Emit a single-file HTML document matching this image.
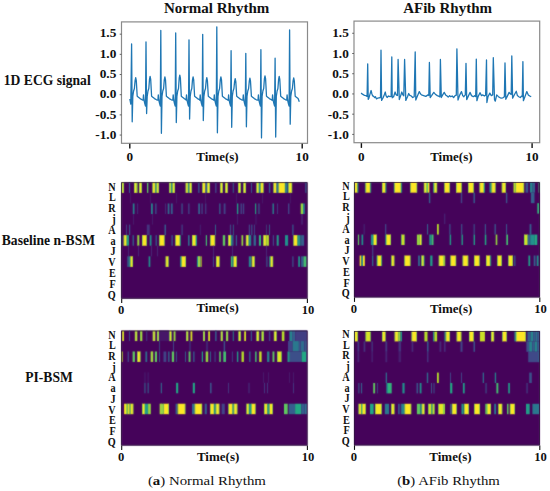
<!DOCTYPE html>
<html><head><meta charset="utf-8"><style>
html,body{margin:0;padding:0;background:#fff;}
svg{display:block;}
text{font-family:"Liberation Serif", serif;}
.tk{font-size:12.6px;font-weight:bold;fill:#111;}
.tky{font-size:13.3px;font-weight:bold;fill:#111;}
.tkx{font-size:13.2px;font-weight:bold;fill:#111;}
.xl{font-size:13px;font-weight:bold;fill:#111;}
.ti{font-size:15px;font-weight:bold;fill:#111;}
.rl{font-size:11.6px;font-weight:bold;fill:#111;}
.lab{font-size:13.6px;font-weight:bold;fill:#111;}
.cap{font-size:13.4px;fill:#111;}
</style></head><body>
<svg width="550" height="491" viewBox="0 0 550 491">
<defs><filter id="soft" color-interpolation-filters="sRGB" filterUnits="userSpaceOnUse" x="0" y="0" width="550" height="491"><feConvolveMatrix order="3" kernelMatrix="1 2 1 2 16 2 1 2 1" edgeMode="duplicate"/></filter></defs>
<rect width="550" height="491" fill="#fff"/>
<g filter="url(#soft)">
<rect x="121.2" y="182.3" width="186.3" height="116.30000000000001" fill="#45035a"/>
<rect x="121.3" y="182.30" width="0.40" height="10.57" fill="#2a788e"/>
<rect x="121.7" y="182.30" width="2.30" height="10.57" fill="#fde725"/>
<rect x="121.7" y="182.30" width="0.55" height="10.57" fill="#4fc36a"/>
<rect x="123.45" y="182.30" width="0.55" height="10.57" fill="#4fc36a"/>
<rect x="129.0" y="182.30" width="1.10" height="10.57" fill="#355f8d"/>
<rect x="134.0" y="182.30" width="3.00" height="10.57" fill="#fde725"/>
<rect x="134.0" y="182.30" width="0.55" height="10.57" fill="#4fc36a"/>
<rect x="136.45" y="182.30" width="0.55" height="10.57" fill="#4fc36a"/>
<rect x="137.0" y="182.30" width="0.60" height="10.57" fill="#95d740"/>
<rect x="139.0" y="182.30" width="2.90" height="10.57" fill="#fde725"/>
<rect x="139.0" y="182.30" width="0.55" height="10.57" fill="#4fc36a"/>
<rect x="141.35" y="182.30" width="0.55" height="10.57" fill="#4fc36a"/>
<rect x="147.0" y="182.30" width="1.30" height="10.57" fill="#5fc860"/>
<rect x="152.5" y="182.30" width="2.90" height="10.57" fill="#fde725"/>
<rect x="152.5" y="182.30" width="0.55" height="10.57" fill="#4fc36a"/>
<rect x="154.85" y="182.30" width="0.55" height="10.57" fill="#4fc36a"/>
<rect x="155.4" y="182.30" width="1.20" height="10.57" fill="#22a884"/>
<rect x="156.6" y="182.30" width="2.40" height="10.57" fill="#fde725"/>
<rect x="156.6" y="182.30" width="0.55" height="10.57" fill="#4fc36a"/>
<rect x="158.45" y="182.30" width="0.55" height="10.57" fill="#4fc36a"/>
<rect x="169.1" y="182.30" width="2.10" height="10.57" fill="#fde725"/>
<rect x="169.1" y="182.30" width="0.55" height="10.57" fill="#4fc36a"/>
<rect x="170.65" y="182.30" width="0.55" height="10.57" fill="#4fc36a"/>
<rect x="171.2" y="182.30" width="1.30" height="10.57" fill="#229c88"/>
<rect x="172.5" y="182.30" width="2.50" height="10.57" fill="#fde725"/>
<rect x="172.5" y="182.30" width="0.55" height="10.57" fill="#4fc36a"/>
<rect x="174.45" y="182.30" width="0.55" height="10.57" fill="#4fc36a"/>
<rect x="185.7" y="182.30" width="2.50" height="10.57" fill="#fde725"/>
<rect x="185.7" y="182.30" width="0.55" height="10.57" fill="#4fc36a"/>
<rect x="187.65" y="182.30" width="0.55" height="10.57" fill="#4fc36a"/>
<rect x="188.2" y="182.30" width="1.20" height="10.57" fill="#229c88"/>
<rect x="189.4" y="182.30" width="2.40" height="10.57" fill="#fde725"/>
<rect x="189.4" y="182.30" width="0.55" height="10.57" fill="#4fc36a"/>
<rect x="191.25" y="182.30" width="0.55" height="10.57" fill="#4fc36a"/>
<rect x="198.2" y="182.30" width="1.30" height="10.57" fill="#355f8d"/>
<rect x="202.3" y="182.30" width="3.20" height="10.57" fill="#fde725"/>
<rect x="202.3" y="182.30" width="0.55" height="10.57" fill="#4fc36a"/>
<rect x="204.95" y="182.30" width="0.55" height="10.57" fill="#4fc36a"/>
<rect x="205.5" y="182.30" width="1.50" height="10.57" fill="#3b528a"/>
<rect x="207.0" y="182.30" width="3.00" height="10.57" fill="#fde725"/>
<rect x="207.0" y="182.30" width="0.55" height="10.57" fill="#4fc36a"/>
<rect x="209.45" y="182.30" width="0.55" height="10.57" fill="#4fc36a"/>
<rect x="215.1" y="182.30" width="1.40" height="10.57" fill="#414487"/>
<rect x="220.1" y="182.30" width="2.70" height="10.57" fill="#fde725"/>
<rect x="220.1" y="182.30" width="0.55" height="10.57" fill="#4fc36a"/>
<rect x="222.25" y="182.30" width="0.55" height="10.57" fill="#4fc36a"/>
<rect x="225.1" y="182.30" width="2.70" height="10.57" fill="#fde725"/>
<rect x="225.1" y="182.30" width="0.55" height="10.57" fill="#4fc36a"/>
<rect x="227.25" y="182.30" width="0.55" height="10.57" fill="#4fc36a"/>
<rect x="232.8" y="182.30" width="0.90" height="10.57" fill="#306c8e"/>
<rect x="238.1" y="182.30" width="2.70" height="10.57" fill="#fde725"/>
<rect x="238.1" y="182.30" width="0.55" height="10.57" fill="#4fc36a"/>
<rect x="240.25" y="182.30" width="0.55" height="10.57" fill="#4fc36a"/>
<rect x="243.3" y="182.30" width="2.70" height="10.57" fill="#fde725"/>
<rect x="243.3" y="182.30" width="0.55" height="10.57" fill="#4fc36a"/>
<rect x="245.45" y="182.30" width="0.55" height="10.57" fill="#4fc36a"/>
<rect x="251.0" y="182.30" width="0.90" height="10.57" fill="#355f8d"/>
<rect x="256.5" y="182.30" width="2.50" height="10.57" fill="#fde725"/>
<rect x="256.5" y="182.30" width="0.55" height="10.57" fill="#4fc36a"/>
<rect x="258.45" y="182.30" width="0.55" height="10.57" fill="#4fc36a"/>
<rect x="259.0" y="182.30" width="1.50" height="10.57" fill="#26848d"/>
<rect x="260.5" y="182.30" width="3.00" height="10.57" fill="#fde725"/>
<rect x="260.5" y="182.30" width="0.55" height="10.57" fill="#4fc36a"/>
<rect x="262.95" y="182.30" width="0.55" height="10.57" fill="#4fc36a"/>
<rect x="268.9" y="182.30" width="1.40" height="10.57" fill="#355f8d"/>
<rect x="273.5" y="182.30" width="3.10" height="10.57" fill="#fde725"/>
<rect x="273.5" y="182.30" width="0.55" height="10.57" fill="#4fc36a"/>
<rect x="276.05" y="182.30" width="0.55" height="10.57" fill="#4fc36a"/>
<rect x="276.6" y="182.30" width="1.90" height="10.57" fill="#306c8e"/>
<rect x="278.5" y="182.30" width="6.80" height="10.57" fill="#fde725"/>
<rect x="278.5" y="182.30" width="0.55" height="10.57" fill="#4fc36a"/>
<rect x="284.75" y="182.30" width="0.55" height="10.57" fill="#4fc36a"/>
<rect x="285.3" y="182.30" width="2.20" height="10.57" fill="#26848d"/>
<rect x="288.0" y="182.30" width="0.50" height="10.57" fill="#95d740"/>
<rect x="288.5" y="182.30" width="3.60" height="10.57" fill="#fde725"/>
<rect x="288.5" y="182.30" width="0.55" height="10.57" fill="#4fc36a"/>
<rect x="291.55" y="182.30" width="0.55" height="10.57" fill="#4fc36a"/>
<rect x="305.3" y="182.30" width="1.30" height="10.57" fill="#355f8d"/>
<rect x="130" y="192.87" width="1.00" height="10.57" fill="#461668"/>
<rect x="150" y="192.87" width="1.00" height="10.57" fill="#461668"/>
<rect x="176" y="192.87" width="1.00" height="10.57" fill="#461668"/>
<rect x="205" y="192.87" width="1.00" height="10.57" fill="#461668"/>
<rect x="236" y="192.87" width="1.00" height="10.57" fill="#461668"/>
<rect x="262" y="192.87" width="1.00" height="10.57" fill="#461668"/>
<rect x="290" y="192.87" width="1.00" height="10.57" fill="#461668"/>
<rect x="132.8" y="203.45" width="1.70" height="10.57" fill="#26848d"/>
<rect x="137.2" y="203.45" width="0.90" height="10.57" fill="#44347e"/>
<rect x="151.0" y="203.45" width="1.80" height="10.57" fill="#26848d"/>
<rect x="155.2" y="203.45" width="1.30" height="10.57" fill="#3b528a"/>
<rect x="165.0" y="203.45" width="0.80" height="10.57" fill="#44347e"/>
<rect x="167.7" y="203.45" width="1.70" height="10.57" fill="#306c8e"/>
<rect x="170.9" y="203.45" width="1.80" height="10.57" fill="#355f8d"/>
<rect x="181.4" y="203.45" width="1.30" height="10.57" fill="#3b528a"/>
<rect x="188.2" y="203.45" width="1.30" height="10.57" fill="#414487"/>
<rect x="198.2" y="203.45" width="1.80" height="10.57" fill="#355f8d"/>
<rect x="201.4" y="203.45" width="1.30" height="10.57" fill="#414487"/>
<rect x="205.0" y="203.45" width="1.40" height="10.57" fill="#44347e"/>
<rect x="219.2" y="203.45" width="1.30" height="10.57" fill="#355f8d"/>
<rect x="223.7" y="203.45" width="1.80" height="10.57" fill="#414487"/>
<rect x="236.9" y="203.45" width="1.40" height="10.57" fill="#229c88"/>
<rect x="240.5" y="203.45" width="1.40" height="10.57" fill="#414487"/>
<rect x="242.8" y="203.45" width="1.40" height="10.57" fill="#414487"/>
<rect x="255.1" y="203.45" width="1.10" height="10.57" fill="#22a884"/>
<rect x="258.3" y="203.45" width="1.30" height="10.57" fill="#3b528a"/>
<rect x="272.5" y="203.45" width="1.40" height="10.57" fill="#26848d"/>
<rect x="277.0" y="203.45" width="1.00" height="10.57" fill="#44347e"/>
<rect x="288.0" y="203.45" width="1.40" height="10.57" fill="#414487"/>
<rect x="300.7" y="203.45" width="2.30" height="10.57" fill="#95d740"/>
<rect x="303.0" y="203.45" width="1.80" height="10.57" fill="#26848d"/>
<rect x="133" y="214.02" width="1.00" height="10.57" fill="#471a6b"/>
<rect x="152" y="214.02" width="1.00" height="10.57" fill="#471a6b"/>
<rect x="237" y="214.02" width="1.00" height="10.57" fill="#471d6e"/>
<rect x="255.5" y="214.02" width="1.00" height="10.57" fill="#471d6e"/>
<rect x="301" y="214.02" width="2.00" height="10.57" fill="#471d6e"/>
<rect x="126.1" y="224.59" width="0.90" height="10.57" fill="#414487"/>
<rect x="129.0" y="224.59" width="1.20" height="10.57" fill="#3b528a"/>
<rect x="146.8" y="224.59" width="2.90" height="10.57" fill="#44347e"/>
<rect x="164.5" y="224.59" width="1.50" height="10.57" fill="#375a8c"/>
<rect x="181.5" y="224.59" width="1.20" height="10.57" fill="#414487"/>
<rect x="199.9" y="224.59" width="0.60" height="10.57" fill="#44347e"/>
<rect x="215.1" y="224.59" width="0.90" height="10.57" fill="#306c8e"/>
<rect x="229.9" y="224.59" width="1.20" height="10.57" fill="#414487"/>
<rect x="232.9" y="224.59" width="0.80" height="10.57" fill="#306c8e"/>
<rect x="248.8" y="224.59" width="1.20" height="10.57" fill="#414487"/>
<rect x="251.2" y="224.59" width="1.20" height="10.57" fill="#3b528a"/>
<rect x="254.1" y="224.59" width="0.90" height="10.57" fill="#414487"/>
<rect x="266.3" y="224.59" width="0.60" height="10.57" fill="#3b528a"/>
<rect x="269.2" y="224.59" width="0.80" height="10.57" fill="#306c8e"/>
<rect x="292.3" y="224.59" width="1.20" height="10.57" fill="#355f8d"/>
<rect x="121.1" y="235.16" width="0.90" height="10.57" fill="#2a788e"/>
<rect x="123.7" y="235.16" width="3.00" height="10.57" fill="#fde725"/>
<rect x="123.7" y="235.16" width="0.55" height="10.57" fill="#4fc36a"/>
<rect x="126.15" y="235.16" width="0.55" height="10.57" fill="#4fc36a"/>
<rect x="127.0" y="235.16" width="2.00" height="10.57" fill="#229c88"/>
<rect x="132.6" y="235.16" width="1.20" height="10.57" fill="#306c8e"/>
<rect x="137.3" y="235.16" width="2.00" height="10.57" fill="#95d740"/>
<rect x="142.0" y="235.16" width="4.80" height="10.57" fill="#fde725"/>
<rect x="142.0" y="235.16" width="0.55" height="10.57" fill="#4fc36a"/>
<rect x="146.25" y="235.16" width="0.55" height="10.57" fill="#4fc36a"/>
<rect x="149.7" y="235.16" width="1.80" height="10.57" fill="#21918c"/>
<rect x="155.6" y="235.16" width="1.20" height="10.57" fill="#355f8d"/>
<rect x="159.2" y="235.16" width="5.30" height="10.57" fill="#fde725"/>
<rect x="159.2" y="235.16" width="0.55" height="10.57" fill="#4fc36a"/>
<rect x="163.95" y="235.16" width="0.55" height="10.57" fill="#4fc36a"/>
<rect x="171.5" y="235.16" width="1.20" height="10.57" fill="#355f8d"/>
<rect x="175.4" y="235.16" width="4.70" height="10.57" fill="#fde725"/>
<rect x="175.4" y="235.16" width="0.55" height="10.57" fill="#4fc36a"/>
<rect x="179.55" y="235.16" width="0.55" height="10.57" fill="#4fc36a"/>
<rect x="180.1" y="235.16" width="0.80" height="10.57" fill="#21918c"/>
<rect x="188.0" y="235.16" width="1.60" height="10.57" fill="#306c8e"/>
<rect x="192.0" y="235.16" width="4.00" height="10.57" fill="#fde725"/>
<rect x="192.0" y="235.16" width="0.55" height="10.57" fill="#4fc36a"/>
<rect x="195.45" y="235.16" width="0.55" height="10.57" fill="#4fc36a"/>
<rect x="196.0" y="235.16" width="1.00" height="10.57" fill="#21918c"/>
<rect x="205.8" y="235.16" width="1.20" height="10.57" fill="#44bf70"/>
<rect x="210.2" y="235.16" width="4.90" height="10.57" fill="#fde725"/>
<rect x="210.2" y="235.16" width="0.55" height="10.57" fill="#4fc36a"/>
<rect x="214.55" y="235.16" width="0.55" height="10.57" fill="#4fc36a"/>
<rect x="222.8" y="235.16" width="2.40" height="10.57" fill="#5fc860"/>
<rect x="228.1" y="235.16" width="3.00" height="10.57" fill="#fde725"/>
<rect x="228.1" y="235.16" width="0.55" height="10.57" fill="#4fc36a"/>
<rect x="230.55" y="235.16" width="0.55" height="10.57" fill="#4fc36a"/>
<rect x="231.1" y="235.16" width="1.20" height="10.57" fill="#21918c"/>
<rect x="232.3" y="235.16" width="1.20" height="10.57" fill="#306c8e"/>
<rect x="235.8" y="235.16" width="1.20" height="10.57" fill="#355f8d"/>
<rect x="241.5" y="235.16" width="1.70" height="10.57" fill="#95d740"/>
<rect x="245.9" y="235.16" width="2.90" height="10.57" fill="#fde725"/>
<rect x="245.9" y="235.16" width="0.55" height="10.57" fill="#4fc36a"/>
<rect x="248.25" y="235.16" width="0.55" height="10.57" fill="#4fc36a"/>
<rect x="248.8" y="235.16" width="2.40" height="10.57" fill="#26848d"/>
<rect x="253.6" y="235.16" width="2.30" height="10.57" fill="#306c8e"/>
<rect x="258.9" y="235.16" width="2.10" height="10.57" fill="#33b47a"/>
<rect x="263.3" y="235.16" width="3.00" height="10.57" fill="#fde725"/>
<rect x="263.3" y="235.16" width="0.55" height="10.57" fill="#4fc36a"/>
<rect x="265.75" y="235.16" width="0.55" height="10.57" fill="#4fc36a"/>
<rect x="266.3" y="235.16" width="2.60" height="10.57" fill="#b6de2a"/>
<rect x="272.8" y="235.16" width="1.20" height="10.57" fill="#414487"/>
<rect x="276.7" y="235.16" width="2.00" height="10.57" fill="#229c88"/>
<rect x="285.0" y="235.16" width="3.10" height="10.57" fill="#21918c"/>
<rect x="293.5" y="235.16" width="4.10" height="10.57" fill="#fde725"/>
<rect x="293.5" y="235.16" width="0.55" height="10.57" fill="#4fc36a"/>
<rect x="297.05" y="235.16" width="0.55" height="10.57" fill="#4fc36a"/>
<rect x="297.6" y="235.16" width="3.00" height="10.57" fill="#21918c"/>
<rect x="301.1" y="235.16" width="3.00" height="10.57" fill="#355f8d"/>
<rect x="128" y="245.74" width="1.00" height="10.57" fill="#482475"/>
<rect x="138" y="245.74" width="1.00" height="10.57" fill="#482475"/>
<rect x="151" y="245.74" width="1.00" height="10.57" fill="#482475"/>
<rect x="157" y="245.74" width="1.00" height="10.57" fill="#482475"/>
<rect x="213" y="245.74" width="1.00" height="10.57" fill="#482475"/>
<rect x="232" y="245.74" width="1.00" height="10.57" fill="#482475"/>
<rect x="266" y="245.74" width="1.00" height="10.57" fill="#482475"/>
<rect x="127.3" y="256.31" width="1.20" height="10.57" fill="#355f8d"/>
<rect x="128.5" y="256.31" width="1.40" height="10.57" fill="#26848d"/>
<rect x="130.2" y="256.31" width="2.80" height="10.57" fill="#fde725"/>
<rect x="130.2" y="256.31" width="0.55" height="10.57" fill="#4fc36a"/>
<rect x="132.45" y="256.31" width="0.55" height="10.57" fill="#4fc36a"/>
<rect x="148.6" y="256.31" width="1.70" height="10.57" fill="#21918c"/>
<rect x="165.7" y="256.31" width="2.80" height="10.57" fill="#fde725"/>
<rect x="165.7" y="256.31" width="0.55" height="10.57" fill="#4fc36a"/>
<rect x="167.95" y="256.31" width="0.55" height="10.57" fill="#4fc36a"/>
<rect x="180.1" y="256.31" width="1.30" height="10.57" fill="#21918c"/>
<rect x="181.4" y="256.31" width="4.60" height="10.57" fill="#fde725"/>
<rect x="181.4" y="256.31" width="0.55" height="10.57" fill="#4fc36a"/>
<rect x="185.45" y="256.31" width="0.55" height="10.57" fill="#4fc36a"/>
<rect x="196.9" y="256.31" width="1.10" height="10.57" fill="#21918c"/>
<rect x="198.0" y="256.31" width="2.00" height="10.57" fill="#fde725"/>
<rect x="198.0" y="256.31" width="0.55" height="10.57" fill="#4fc36a"/>
<rect x="199.45" y="256.31" width="0.55" height="10.57" fill="#4fc36a"/>
<rect x="200.0" y="256.31" width="0.60" height="10.57" fill="#229c88"/>
<rect x="200.6" y="256.31" width="1.00" height="10.57" fill="#d7e226"/>
<rect x="212.9" y="256.31" width="1.10" height="10.57" fill="#414487"/>
<rect x="216.0" y="256.31" width="3.50" height="10.57" fill="#fde725"/>
<rect x="216.0" y="256.31" width="0.55" height="10.57" fill="#4fc36a"/>
<rect x="218.95" y="256.31" width="0.55" height="10.57" fill="#4fc36a"/>
<rect x="230.9" y="256.31" width="1.40" height="10.57" fill="#44bf70"/>
<rect x="232.3" y="256.31" width="1.20" height="10.57" fill="#21918c"/>
<rect x="233.5" y="256.31" width="3.30" height="10.57" fill="#fde725"/>
<rect x="233.5" y="256.31" width="0.55" height="10.57" fill="#4fc36a"/>
<rect x="236.25" y="256.31" width="0.55" height="10.57" fill="#4fc36a"/>
<rect x="248.8" y="256.31" width="2.40" height="10.57" fill="#26848d"/>
<rect x="251.8" y="256.31" width="2.90" height="10.57" fill="#fde725"/>
<rect x="251.8" y="256.31" width="0.55" height="10.57" fill="#4fc36a"/>
<rect x="254.15" y="256.31" width="0.55" height="10.57" fill="#4fc36a"/>
<rect x="266.3" y="256.31" width="1.20" height="10.57" fill="#3b528a"/>
<rect x="269.2" y="256.31" width="1.20" height="10.57" fill="#26848d"/>
<rect x="270.4" y="256.31" width="2.70" height="10.57" fill="#fde725"/>
<rect x="270.4" y="256.31" width="0.55" height="10.57" fill="#4fc36a"/>
<rect x="272.55" y="256.31" width="0.55" height="10.57" fill="#4fc36a"/>
<rect x="292.3" y="256.31" width="1.20" height="10.57" fill="#3b528a"/>
<rect x="298.2" y="256.31" width="1.80" height="10.57" fill="#21918c"/>
<rect x="301.1" y="256.31" width="2.40" height="10.57" fill="#355f8d"/>
<rect x="303.5" y="256.31" width="3.00" height="10.57" fill="#44bf70"/>
<rect x="354.0" y="182.2" width="185.89999999999998" height="115.19999999999999" fill="#45035a"/>
<rect x="354.5" y="182.20" width="3.10" height="10.47" fill="#fde725"/>
<rect x="354.5" y="182.20" width="0.55" height="10.47" fill="#4fc36a"/>
<rect x="357.05" y="182.20" width="0.55" height="10.47" fill="#4fc36a"/>
<rect x="357.6" y="182.20" width="0.80" height="10.47" fill="#21918c"/>
<rect x="364.9" y="182.20" width="0.70" height="10.47" fill="#21918c"/>
<rect x="365.6" y="182.20" width="4.80" height="10.47" fill="#fde725"/>
<rect x="365.6" y="182.20" width="0.55" height="10.47" fill="#4fc36a"/>
<rect x="369.85" y="182.20" width="0.55" height="10.47" fill="#4fc36a"/>
<rect x="370.4" y="182.20" width="0.80" height="10.47" fill="#21918c"/>
<rect x="382.0" y="182.20" width="3.60" height="10.47" fill="#fde725"/>
<rect x="382.0" y="182.20" width="0.55" height="10.47" fill="#4fc36a"/>
<rect x="385.05" y="182.20" width="0.55" height="10.47" fill="#4fc36a"/>
<rect x="385.6" y="182.20" width="0.80" height="10.47" fill="#21918c"/>
<rect x="393.8" y="182.20" width="0.60" height="10.47" fill="#21918c"/>
<rect x="394.4" y="182.20" width="6.80" height="10.47" fill="#fde725"/>
<rect x="394.4" y="182.20" width="0.55" height="10.47" fill="#4fc36a"/>
<rect x="400.65" y="182.20" width="0.55" height="10.47" fill="#4fc36a"/>
<rect x="401.2" y="182.20" width="0.90" height="10.47" fill="#21918c"/>
<rect x="410.3" y="182.20" width="6.80" height="10.47" fill="#fde725"/>
<rect x="410.3" y="182.20" width="0.55" height="10.47" fill="#4fc36a"/>
<rect x="416.55" y="182.20" width="0.55" height="10.47" fill="#4fc36a"/>
<rect x="423.9" y="182.20" width="3.00" height="10.47" fill="#fde725"/>
<rect x="423.9" y="182.20" width="0.55" height="10.47" fill="#4fc36a"/>
<rect x="426.35" y="182.20" width="0.55" height="10.47" fill="#4fc36a"/>
<rect x="426.9" y="182.20" width="1.10" height="10.47" fill="#5fc860"/>
<rect x="428.0" y="182.20" width="1.40" height="10.47" fill="#fde725"/>
<rect x="433.0" y="182.20" width="0.90" height="10.47" fill="#26848d"/>
<rect x="433.9" y="182.20" width="3.20" height="10.47" fill="#fde725"/>
<rect x="433.9" y="182.20" width="0.55" height="10.47" fill="#4fc36a"/>
<rect x="436.55" y="182.20" width="0.55" height="10.47" fill="#4fc36a"/>
<rect x="444.4" y="182.20" width="5.50" height="10.47" fill="#fde725"/>
<rect x="444.4" y="182.20" width="0.55" height="10.47" fill="#4fc36a"/>
<rect x="449.35" y="182.20" width="0.55" height="10.47" fill="#4fc36a"/>
<rect x="456.0" y="182.20" width="5.70" height="10.47" fill="#fde725"/>
<rect x="456.0" y="182.20" width="0.55" height="10.47" fill="#4fc36a"/>
<rect x="461.15" y="182.20" width="0.55" height="10.47" fill="#4fc36a"/>
<rect x="468.1" y="182.20" width="5.70" height="10.47" fill="#fde725"/>
<rect x="468.1" y="182.20" width="0.55" height="10.47" fill="#4fc36a"/>
<rect x="473.25" y="182.20" width="0.55" height="10.47" fill="#4fc36a"/>
<rect x="479.6" y="182.20" width="4.50" height="10.47" fill="#fde725"/>
<rect x="479.6" y="182.20" width="0.55" height="10.47" fill="#4fc36a"/>
<rect x="483.55" y="182.20" width="0.55" height="10.47" fill="#4fc36a"/>
<rect x="484.1" y="182.20" width="0.90" height="10.47" fill="#21918c"/>
<rect x="489.5" y="182.20" width="1.40" height="10.47" fill="#21918c"/>
<rect x="490.9" y="182.20" width="0.70" height="10.47" fill="#5fc860"/>
<rect x="491.6" y="182.20" width="3.90" height="10.47" fill="#fde725"/>
<rect x="491.6" y="182.20" width="0.55" height="10.47" fill="#4fc36a"/>
<rect x="494.95" y="182.20" width="0.55" height="10.47" fill="#4fc36a"/>
<rect x="501.8" y="182.20" width="4.10" height="10.47" fill="#fde725"/>
<rect x="501.8" y="182.20" width="0.55" height="10.47" fill="#4fc36a"/>
<rect x="505.35" y="182.20" width="0.55" height="10.47" fill="#4fc36a"/>
<rect x="513.5" y="182.20" width="2.00" height="10.47" fill="#b6de2a"/>
<rect x="515.5" y="182.20" width="8.60" height="10.47" fill="#fde725"/>
<rect x="515.5" y="182.20" width="0.55" height="10.47" fill="#4fc36a"/>
<rect x="523.55" y="182.20" width="0.55" height="10.47" fill="#4fc36a"/>
<rect x="525.5" y="182.20" width="2.70" height="10.47" fill="#3b528a"/>
<rect x="530.0" y="182.20" width="2.70" height="10.47" fill="#26848d"/>
<rect x="532.7" y="182.20" width="2.30" height="10.47" fill="#355f8d"/>
<rect x="538.6" y="182.20" width="0.90" height="10.47" fill="#44bf70"/>
<rect x="428.9" y="192.67" width="1.40" height="10.47" fill="#355f8d"/>
<rect x="460.8" y="192.67" width="1.40" height="10.47" fill="#414487"/>
<rect x="473.5" y="192.67" width="1.40" height="10.47" fill="#355f8d"/>
<rect x="505.9" y="192.67" width="1.40" height="10.47" fill="#3b528a"/>
<rect x="530.9" y="192.67" width="3.60" height="10.47" fill="#355f8d"/>
<rect x="537.3" y="203.15" width="1.80" height="10.47" fill="#33b47a"/>
<rect x="444.1" y="213.62" width="1.20" height="10.47" fill="#482475"/>
<rect x="363.8" y="224.09" width="0.60" height="10.47" fill="#414487"/>
<rect x="385.0" y="224.09" width="1.30" height="10.47" fill="#414487"/>
<rect x="427.0" y="224.09" width="1.10" height="10.47" fill="#355f8d"/>
<rect x="437.0" y="224.09" width="1.80" height="10.47" fill="#b6de2a"/>
<rect x="449.3" y="224.09" width="1.20" height="10.47" fill="#3b528a"/>
<rect x="461.1" y="224.09" width="1.20" height="10.47" fill="#3b528a"/>
<rect x="473.6" y="224.09" width="1.10" height="10.47" fill="#3b528a"/>
<rect x="484.8" y="224.09" width="1.20" height="10.47" fill="#3b528a"/>
<rect x="494.5" y="224.09" width="1.40" height="10.47" fill="#3b528a"/>
<rect x="506.0" y="224.09" width="1.10" height="10.47" fill="#3b528a"/>
<rect x="529.6" y="224.09" width="1.80" height="10.47" fill="#355f8d"/>
<rect x="357.9" y="234.56" width="1.20" height="10.47" fill="#5fc860"/>
<rect x="361.5" y="234.56" width="1.70" height="10.47" fill="#21918c"/>
<rect x="370.9" y="234.56" width="2.40" height="10.47" fill="#21918c"/>
<rect x="373.3" y="234.56" width="3.50" height="10.47" fill="#fde725"/>
<rect x="373.3" y="234.56" width="0.55" height="10.47" fill="#4fc36a"/>
<rect x="376.25" y="234.56" width="0.55" height="10.47" fill="#4fc36a"/>
<rect x="385.3" y="234.56" width="0.70" height="10.47" fill="#21918c"/>
<rect x="386.0" y="234.56" width="5.00" height="10.47" fill="#fde725"/>
<rect x="386.0" y="234.56" width="0.55" height="10.47" fill="#4fc36a"/>
<rect x="390.45" y="234.56" width="0.55" height="10.47" fill="#4fc36a"/>
<rect x="401.0" y="234.56" width="0.50" height="10.47" fill="#44bf70"/>
<rect x="401.5" y="234.56" width="3.00" height="10.47" fill="#d7e226"/>
<rect x="401.5" y="234.56" width="0.55" height="10.47" fill="#4fc36a"/>
<rect x="403.95" y="234.56" width="0.55" height="10.47" fill="#4fc36a"/>
<rect x="416.9" y="234.56" width="2.40" height="10.47" fill="#95d740"/>
<rect x="419.3" y="234.56" width="2.30" height="10.47" fill="#fde725"/>
<rect x="419.3" y="234.56" width="0.55" height="10.47" fill="#4fc36a"/>
<rect x="421.05" y="234.56" width="0.55" height="10.47" fill="#4fc36a"/>
<rect x="429.3" y="234.56" width="2.40" height="10.47" fill="#21918c"/>
<rect x="431.7" y="234.56" width="1.80" height="10.47" fill="#44bf70"/>
<rect x="449.7" y="234.56" width="1.40" height="10.47" fill="#229c88"/>
<rect x="461.5" y="234.56" width="1.40" height="10.47" fill="#229c88"/>
<rect x="473.6" y="234.56" width="1.40" height="10.47" fill="#229c88"/>
<rect x="484.8" y="234.56" width="1.50" height="10.47" fill="#22a884"/>
<rect x="495.7" y="234.56" width="1.60" height="10.47" fill="#95d740"/>
<rect x="506.3" y="234.56" width="1.70" height="10.47" fill="#44bf70"/>
<rect x="524.0" y="234.56" width="3.80" height="10.47" fill="#d7e226"/>
<rect x="524.0" y="234.56" width="0.55" height="10.47" fill="#4fc36a"/>
<rect x="527.25" y="234.56" width="0.55" height="10.47" fill="#4fc36a"/>
<rect x="527.8" y="234.56" width="2.40" height="10.47" fill="#355f8d"/>
<rect x="530.2" y="234.56" width="4.10" height="10.47" fill="#21918c"/>
<rect x="534.3" y="234.56" width="3.00" height="10.47" fill="#22a884"/>
<rect x="372.1" y="245.04" width="1.20" height="10.47" fill="#414487"/>
<rect x="359.7" y="255.51" width="1.70" height="10.47" fill="#fde725"/>
<rect x="361.4" y="255.51" width="1.60" height="10.47" fill="#21918c"/>
<rect x="363.0" y="255.51" width="1.80" height="10.47" fill="#fde725"/>
<rect x="372.1" y="255.51" width="1.20" height="10.47" fill="#306c8e"/>
<rect x="376.6" y="255.51" width="0.50" height="10.47" fill="#22a884"/>
<rect x="377.1" y="255.51" width="4.50" height="10.47" fill="#fde725"/>
<rect x="377.1" y="255.51" width="0.55" height="10.47" fill="#4fc36a"/>
<rect x="381.05" y="255.51" width="0.55" height="10.47" fill="#4fc36a"/>
<rect x="381.6" y="255.51" width="0.50" height="10.47" fill="#22a884"/>
<rect x="391.4" y="255.51" width="2.90" height="10.47" fill="#fde725"/>
<rect x="391.4" y="255.51" width="0.55" height="10.47" fill="#4fc36a"/>
<rect x="393.75" y="255.51" width="0.55" height="10.47" fill="#4fc36a"/>
<rect x="404.5" y="255.51" width="5.90" height="10.47" fill="#fde725"/>
<rect x="404.5" y="255.51" width="0.55" height="10.47" fill="#4fc36a"/>
<rect x="409.85" y="255.51" width="0.55" height="10.47" fill="#4fc36a"/>
<rect x="418.1" y="255.51" width="1.80" height="10.47" fill="#306c8e"/>
<rect x="421.0" y="255.51" width="0.60" height="10.47" fill="#22a884"/>
<rect x="421.6" y="255.51" width="2.40" height="10.47" fill="#fde725"/>
<rect x="421.6" y="255.51" width="0.55" height="10.47" fill="#4fc36a"/>
<rect x="423.45" y="255.51" width="0.55" height="10.47" fill="#4fc36a"/>
<rect x="424.0" y="255.51" width="0.50" height="10.47" fill="#22a884"/>
<rect x="430.2" y="255.51" width="2.30" height="10.47" fill="#229c88"/>
<rect x="438.8" y="255.51" width="5.30" height="10.47" fill="#fde725"/>
<rect x="438.8" y="255.51" width="0.55" height="10.47" fill="#4fc36a"/>
<rect x="443.55" y="255.51" width="0.55" height="10.47" fill="#4fc36a"/>
<rect x="444.1" y="255.51" width="1.10" height="10.47" fill="#95d740"/>
<rect x="450.5" y="255.51" width="5.60" height="10.47" fill="#fde725"/>
<rect x="450.5" y="255.51" width="0.55" height="10.47" fill="#4fc36a"/>
<rect x="455.55" y="255.51" width="0.55" height="10.47" fill="#4fc36a"/>
<rect x="462.7" y="255.51" width="5.50" height="10.47" fill="#fde725"/>
<rect x="462.7" y="255.51" width="0.55" height="10.47" fill="#4fc36a"/>
<rect x="467.65" y="255.51" width="0.55" height="10.47" fill="#4fc36a"/>
<rect x="474.1" y="255.51" width="5.40" height="10.47" fill="#fde725"/>
<rect x="474.1" y="255.51" width="0.55" height="10.47" fill="#4fc36a"/>
<rect x="478.95" y="255.51" width="0.55" height="10.47" fill="#4fc36a"/>
<rect x="486.0" y="255.51" width="4.30" height="10.47" fill="#fde725"/>
<rect x="486.0" y="255.51" width="0.55" height="10.47" fill="#4fc36a"/>
<rect x="489.75" y="255.51" width="0.55" height="10.47" fill="#4fc36a"/>
<rect x="490.3" y="255.51" width="0.90" height="10.47" fill="#21918c"/>
<rect x="497.3" y="255.51" width="4.50" height="10.47" fill="#fde725"/>
<rect x="497.3" y="255.51" width="0.55" height="10.47" fill="#4fc36a"/>
<rect x="501.25" y="255.51" width="0.55" height="10.47" fill="#4fc36a"/>
<rect x="508.3" y="255.51" width="4.70" height="10.47" fill="#fde725"/>
<rect x="508.3" y="255.51" width="0.55" height="10.47" fill="#4fc36a"/>
<rect x="512.45" y="255.51" width="0.55" height="10.47" fill="#4fc36a"/>
<rect x="514.2" y="255.51" width="1.20" height="10.47" fill="#355f8d"/>
<rect x="528.4" y="255.51" width="1.80" height="10.47" fill="#229c88"/>
<rect x="533.7" y="255.51" width="1.80" height="10.47" fill="#355f8d"/>
<rect x="536.7" y="255.51" width="1.80" height="10.47" fill="#21918c"/>
<rect x="121.2" y="330.6" width="186.3" height="114.89999999999998" fill="#45035a"/>
<rect x="122.2" y="330.60" width="1.80" height="10.45" fill="#d7e226"/>
<rect x="129.0" y="330.60" width="0.90" height="10.45" fill="#3b528a"/>
<rect x="134.9" y="330.60" width="2.30" height="10.45" fill="#fde725"/>
<rect x="134.9" y="330.60" width="0.55" height="10.45" fill="#4fc36a"/>
<rect x="136.65" y="330.60" width="0.55" height="10.45" fill="#4fc36a"/>
<rect x="140.1" y="330.60" width="2.10" height="10.45" fill="#d7e226"/>
<rect x="140.1" y="330.60" width="0.55" height="10.45" fill="#4fc36a"/>
<rect x="141.65" y="330.60" width="0.55" height="10.45" fill="#4fc36a"/>
<rect x="146.3" y="330.60" width="0.90" height="10.45" fill="#414487"/>
<rect x="152.8" y="330.60" width="2.40" height="10.45" fill="#fde725"/>
<rect x="152.8" y="330.60" width="0.55" height="10.45" fill="#4fc36a"/>
<rect x="154.65" y="330.60" width="0.55" height="10.45" fill="#4fc36a"/>
<rect x="157.0" y="330.60" width="2.00" height="10.45" fill="#fde725"/>
<rect x="157.0" y="330.60" width="0.55" height="10.45" fill="#4fc36a"/>
<rect x="158.45" y="330.60" width="0.55" height="10.45" fill="#4fc36a"/>
<rect x="159.0" y="330.60" width="10.00" height="10.45" fill="#461668"/>
<rect x="169.4" y="330.60" width="2.10" height="10.45" fill="#fde725"/>
<rect x="169.4" y="330.60" width="0.55" height="10.45" fill="#4fc36a"/>
<rect x="170.95" y="330.60" width="0.55" height="10.45" fill="#4fc36a"/>
<rect x="173.6" y="330.60" width="1.90" height="10.45" fill="#95d740"/>
<rect x="186.1" y="330.60" width="2.10" height="10.45" fill="#fde725"/>
<rect x="186.1" y="330.60" width="0.55" height="10.45" fill="#4fc36a"/>
<rect x="187.65" y="330.60" width="0.55" height="10.45" fill="#4fc36a"/>
<rect x="190.5" y="330.60" width="1.80" height="10.45" fill="#d7e226"/>
<rect x="203.0" y="330.60" width="2.00" height="10.45" fill="#fde725"/>
<rect x="203.0" y="330.60" width="0.55" height="10.45" fill="#4fc36a"/>
<rect x="204.45" y="330.60" width="0.55" height="10.45" fill="#4fc36a"/>
<rect x="208.2" y="330.60" width="1.80" height="10.45" fill="#d7e226"/>
<rect x="215.1" y="330.60" width="1.50" height="10.45" fill="#355f8d"/>
<rect x="220.8" y="330.60" width="2.00" height="10.45" fill="#fde725"/>
<rect x="220.8" y="330.60" width="0.55" height="10.45" fill="#4fc36a"/>
<rect x="222.25" y="330.60" width="0.55" height="10.45" fill="#4fc36a"/>
<rect x="226.0" y="330.60" width="2.10" height="10.45" fill="#d7e226"/>
<rect x="226.0" y="330.60" width="0.55" height="10.45" fill="#4fc36a"/>
<rect x="227.55" y="330.60" width="0.55" height="10.45" fill="#4fc36a"/>
<rect x="232.8" y="330.60" width="0.90" height="10.45" fill="#21918c"/>
<rect x="238.5" y="330.60" width="2.30" height="10.45" fill="#fde725"/>
<rect x="238.5" y="330.60" width="0.55" height="10.45" fill="#4fc36a"/>
<rect x="240.25" y="330.60" width="0.55" height="10.45" fill="#4fc36a"/>
<rect x="244.2" y="330.60" width="1.80" height="10.45" fill="#d7e226"/>
<rect x="250.8" y="330.60" width="1.10" height="10.45" fill="#355f8d"/>
<rect x="256.5" y="330.60" width="2.60" height="10.45" fill="#fde725"/>
<rect x="256.5" y="330.60" width="0.55" height="10.45" fill="#4fc36a"/>
<rect x="258.55" y="330.60" width="0.55" height="10.45" fill="#4fc36a"/>
<rect x="261.6" y="330.60" width="2.30" height="10.45" fill="#d7e226"/>
<rect x="261.6" y="330.60" width="0.55" height="10.45" fill="#4fc36a"/>
<rect x="263.35" y="330.60" width="0.55" height="10.45" fill="#4fc36a"/>
<rect x="268.9" y="330.60" width="1.40" height="10.45" fill="#414487"/>
<rect x="273.9" y="330.60" width="2.70" height="10.45" fill="#fde725"/>
<rect x="273.9" y="330.60" width="0.55" height="10.45" fill="#4fc36a"/>
<rect x="276.05" y="330.60" width="0.55" height="10.45" fill="#4fc36a"/>
<rect x="281.8" y="330.60" width="2.60" height="10.45" fill="#b6de2a"/>
<rect x="289.4" y="330.60" width="2.70" height="10.45" fill="#26848d"/>
<rect x="292.1" y="330.60" width="3.20" height="10.45" fill="#355f8d"/>
<rect x="295.3" y="330.60" width="11.70" height="10.45" fill="#423e83"/>
<rect x="159.0" y="341.05" width="0.70" height="10.45" fill="#355f8d"/>
<rect x="173" y="341.05" width="1.00" height="10.45" fill="#414487"/>
<rect x="189.5" y="341.05" width="1.00" height="10.45" fill="#414487"/>
<rect x="206.5" y="341.05" width="1.00" height="10.45" fill="#414487"/>
<rect x="223.7" y="341.05" width="1.40" height="10.45" fill="#3b528a"/>
<rect x="288.0" y="341.05" width="4.50" height="10.45" fill="#414487"/>
<rect x="292.5" y="341.05" width="6.40" height="10.45" fill="#2a788e"/>
<rect x="298.9" y="341.05" width="1.80" height="10.45" fill="#3b528a"/>
<rect x="300.7" y="341.05" width="3.70" height="10.45" fill="#306c8e"/>
<rect x="304.4" y="341.05" width="2.60" height="10.45" fill="#3b528a"/>
<rect x="121.3" y="351.49" width="1.30" height="10.45" fill="#b6de2a"/>
<rect x="127.6" y="351.49" width="1.40" height="10.45" fill="#414487"/>
<rect x="132.6" y="351.49" width="2.30" height="10.45" fill="#5fc860"/>
<rect x="137.2" y="351.49" width="3.20" height="10.45" fill="#fde725"/>
<rect x="137.2" y="351.49" width="0.55" height="10.45" fill="#4fc36a"/>
<rect x="139.85" y="351.49" width="0.55" height="10.45" fill="#4fc36a"/>
<rect x="145.4" y="351.49" width="1.80" height="10.45" fill="#306c8e"/>
<rect x="150.8" y="351.49" width="2.30" height="10.45" fill="#d7e226"/>
<rect x="150.8" y="351.49" width="0.55" height="10.45" fill="#4fc36a"/>
<rect x="152.55" y="351.49" width="0.55" height="10.45" fill="#4fc36a"/>
<rect x="154.9" y="351.49" width="2.10" height="10.45" fill="#5fc860"/>
<rect x="159.0" y="351.49" width="0.90" height="10.45" fill="#355f8d"/>
<rect x="163.5" y="351.49" width="2.80" height="10.45" fill="#414487"/>
<rect x="168.2" y="351.49" width="1.30" height="10.45" fill="#306c8e"/>
<rect x="171.8" y="351.49" width="2.30" height="10.45" fill="#5fc860"/>
<rect x="175.9" y="351.49" width="0.90" height="10.45" fill="#355f8d"/>
<rect x="185.0" y="351.49" width="0.90" height="10.45" fill="#355f8d"/>
<rect x="188.6" y="351.49" width="1.90" height="10.45" fill="#5fc860"/>
<rect x="193.2" y="351.49" width="1.30" height="10.45" fill="#355f8d"/>
<rect x="201.8" y="351.49" width="1.20" height="10.45" fill="#22a884"/>
<rect x="205.7" y="351.49" width="2.50" height="10.45" fill="#95d740"/>
<rect x="210.0" y="351.49" width="0.90" height="10.45" fill="#306c8e"/>
<rect x="214.6" y="351.49" width="0.90" height="10.45" fill="#3b528a"/>
<rect x="219.2" y="351.49" width="1.60" height="10.45" fill="#5fc860"/>
<rect x="223.3" y="351.49" width="2.70" height="10.45" fill="#44bf70"/>
<rect x="231.9" y="351.49" width="0.90" height="10.45" fill="#414487"/>
<rect x="236.9" y="351.49" width="1.40" height="10.45" fill="#229c88"/>
<rect x="241.5" y="351.49" width="2.40" height="10.45" fill="#b6de2a"/>
<rect x="249.2" y="351.49" width="1.30" height="10.45" fill="#306c8e"/>
<rect x="255.1" y="351.49" width="1.50" height="10.45" fill="#44bf70"/>
<rect x="259.2" y="351.49" width="2.40" height="10.45" fill="#cae126"/>
<rect x="267.1" y="351.49" width="2.30" height="10.45" fill="#26848d"/>
<rect x="272.5" y="351.49" width="1.90" height="10.45" fill="#5fc860"/>
<rect x="277.1" y="351.49" width="4.50" height="10.45" fill="#e3e425"/>
<rect x="277.1" y="351.49" width="0.55" height="10.45" fill="#4fc36a"/>
<rect x="281.05" y="351.49" width="0.55" height="10.45" fill="#4fc36a"/>
<rect x="287.5" y="351.49" width="2.30" height="10.45" fill="#229c88"/>
<rect x="289.8" y="351.49" width="11.80" height="10.45" fill="#3c4f89"/>
<rect x="301.6" y="351.49" width="4.60" height="10.45" fill="#22a884"/>
<rect x="306.2" y="351.49" width="0.80" height="10.45" fill="#355f8d"/>
<rect x="144.4" y="372.38" width="1.10" height="10.45" fill="#471d6e"/>
<rect x="147.6" y="372.38" width="1.10" height="10.45" fill="#471d6e"/>
<rect x="263" y="372.38" width="1.00" height="10.45" fill="#471a6b"/>
<rect x="268" y="372.38" width="1.00" height="10.45" fill="#471a6b"/>
<rect x="289" y="372.38" width="1.00" height="10.45" fill="#471a6b"/>
<rect x="293" y="372.38" width="1.00" height="10.45" fill="#471a6b"/>
<rect x="144.4" y="382.83" width="1.10" height="10.45" fill="#355f8d"/>
<rect x="147.6" y="382.83" width="1.10" height="10.45" fill="#355f8d"/>
<rect x="160.8" y="382.83" width="1.10" height="10.45" fill="#306c8e"/>
<rect x="176.1" y="382.83" width="2.10" height="10.45" fill="#22a884"/>
<rect x="192.8" y="382.83" width="2.10" height="10.45" fill="#22a884"/>
<rect x="210.0" y="382.83" width="1.60" height="10.45" fill="#3b528a"/>
<rect x="228" y="382.83" width="1.00" height="10.45" fill="#44347e"/>
<rect x="248.5" y="382.83" width="1.00" height="10.45" fill="#44347e"/>
<rect x="264" y="382.83" width="1.00" height="10.45" fill="#44347e"/>
<rect x="267" y="382.83" width="1.00" height="10.45" fill="#44347e"/>
<rect x="293" y="382.83" width="1.00" height="10.45" fill="#44347e"/>
<rect x="124.1" y="403.72" width="1.90" height="10.45" fill="#f7e625"/>
<rect x="126.0" y="403.72" width="1.50" height="10.45" fill="#95d740"/>
<rect x="127.5" y="403.72" width="2.00" height="10.45" fill="#f7e625"/>
<rect x="127.5" y="403.72" width="0.55" height="10.45" fill="#4fc36a"/>
<rect x="128.95" y="403.72" width="0.55" height="10.45" fill="#4fc36a"/>
<rect x="129.5" y="403.72" width="1.00" height="10.45" fill="#95d740"/>
<rect x="130.5" y="403.72" width="2.80" height="10.45" fill="#fde725"/>
<rect x="130.5" y="403.72" width="0.55" height="10.45" fill="#4fc36a"/>
<rect x="132.75" y="403.72" width="0.55" height="10.45" fill="#4fc36a"/>
<rect x="142.1" y="403.72" width="2.90" height="10.45" fill="#fde725"/>
<rect x="142.1" y="403.72" width="0.55" height="10.45" fill="#4fc36a"/>
<rect x="144.45" y="403.72" width="0.55" height="10.45" fill="#4fc36a"/>
<rect x="145.0" y="403.72" width="3.10" height="10.45" fill="#229c88"/>
<rect x="148.1" y="403.72" width="2.70" height="10.45" fill="#95d740"/>
<rect x="159.8" y="403.72" width="2.20" height="10.45" fill="#e3e425"/>
<rect x="159.8" y="403.72" width="0.55" height="10.45" fill="#4fc36a"/>
<rect x="161.45" y="403.72" width="0.55" height="10.45" fill="#4fc36a"/>
<rect x="162" y="403.72" width="1.50" height="10.45" fill="#95d740"/>
<rect x="163.5" y="403.72" width="5.50" height="10.45" fill="#fde725"/>
<rect x="163.5" y="403.72" width="0.55" height="10.45" fill="#4fc36a"/>
<rect x="168.45" y="403.72" width="0.55" height="10.45" fill="#4fc36a"/>
<rect x="175.6" y="403.72" width="1.60" height="10.45" fill="#355f8d"/>
<rect x="177.7" y="403.72" width="7.60" height="10.45" fill="#fde725"/>
<rect x="177.7" y="403.72" width="0.55" height="10.45" fill="#4fc36a"/>
<rect x="184.75" y="403.72" width="0.55" height="10.45" fill="#4fc36a"/>
<rect x="192.0" y="403.72" width="2.70" height="10.45" fill="#306c8e"/>
<rect x="194.7" y="403.72" width="7.40" height="10.45" fill="#fde725"/>
<rect x="194.7" y="403.72" width="0.55" height="10.45" fill="#4fc36a"/>
<rect x="201.55" y="403.72" width="0.55" height="10.45" fill="#4fc36a"/>
<rect x="204.7" y="403.72" width="2.10" height="10.45" fill="#355f8d"/>
<rect x="210.0" y="403.72" width="4.20" height="10.45" fill="#fde725"/>
<rect x="210.0" y="403.72" width="0.55" height="10.45" fill="#4fc36a"/>
<rect x="213.65" y="403.72" width="0.55" height="10.45" fill="#4fc36a"/>
<rect x="214.2" y="403.72" width="1.60" height="10.45" fill="#229c88"/>
<rect x="215.8" y="403.72" width="3.50" height="10.45" fill="#fde725"/>
<rect x="215.8" y="403.72" width="0.55" height="10.45" fill="#4fc36a"/>
<rect x="218.75" y="403.72" width="0.55" height="10.45" fill="#4fc36a"/>
<rect x="221.6" y="403.72" width="3.20" height="10.45" fill="#414487"/>
<rect x="228.5" y="403.72" width="4.20" height="10.45" fill="#fde725"/>
<rect x="228.5" y="403.72" width="0.55" height="10.45" fill="#4fc36a"/>
<rect x="232.15" y="403.72" width="0.55" height="10.45" fill="#4fc36a"/>
<rect x="232.7" y="403.72" width="1.10" height="10.45" fill="#229c88"/>
<rect x="233.8" y="403.72" width="3.50" height="10.45" fill="#fde725"/>
<rect x="233.8" y="403.72" width="0.55" height="10.45" fill="#4fc36a"/>
<rect x="236.75" y="403.72" width="0.55" height="10.45" fill="#4fc36a"/>
<rect x="246.5" y="403.72" width="2.60" height="10.45" fill="#fde725"/>
<rect x="246.5" y="403.72" width="0.55" height="10.45" fill="#4fc36a"/>
<rect x="248.55" y="403.72" width="0.55" height="10.45" fill="#4fc36a"/>
<rect x="249.1" y="403.72" width="2.20" height="10.45" fill="#229c88"/>
<rect x="251.3" y="403.72" width="4.20" height="10.45" fill="#fde725"/>
<rect x="251.3" y="403.72" width="0.55" height="10.45" fill="#4fc36a"/>
<rect x="254.95" y="403.72" width="0.55" height="10.45" fill="#4fc36a"/>
<rect x="264.1" y="403.72" width="3.40" height="10.45" fill="#f7e625"/>
<rect x="264.1" y="403.72" width="0.55" height="10.45" fill="#4fc36a"/>
<rect x="266.95" y="403.72" width="0.55" height="10.45" fill="#4fc36a"/>
<rect x="267.5" y="403.72" width="1.90" height="10.45" fill="#229c88"/>
<rect x="269.4" y="403.72" width="3.40" height="10.45" fill="#fde725"/>
<rect x="269.4" y="403.72" width="0.55" height="10.45" fill="#4fc36a"/>
<rect x="272.25" y="403.72" width="0.55" height="10.45" fill="#4fc36a"/>
<rect x="284.0" y="403.72" width="3.70" height="10.45" fill="#5fc860"/>
<rect x="288.7" y="403.72" width="6.40" height="10.45" fill="#355f8d"/>
<rect x="295.1" y="403.72" width="6.30" height="10.45" fill="#22a884"/>
<rect x="301.4" y="403.72" width="3.20" height="10.45" fill="#355f8d"/>
<rect x="304.6" y="403.72" width="2.40" height="10.45" fill="#306c8e"/>
<rect x="354.0" y="331.0" width="185.89999999999998" height="114.39999999999998" fill="#45035a"/>
<rect x="354.5" y="331.00" width="3.40" height="10.40" fill="#fde725"/>
<rect x="354.5" y="331.00" width="0.55" height="10.40" fill="#4fc36a"/>
<rect x="357.35" y="331.00" width="0.55" height="10.40" fill="#4fc36a"/>
<rect x="365.6" y="331.00" width="5.00" height="10.40" fill="#d7e226"/>
<rect x="365.6" y="331.00" width="0.55" height="10.40" fill="#4fc36a"/>
<rect x="370.05" y="331.00" width="0.55" height="10.40" fill="#4fc36a"/>
<rect x="382.0" y="331.00" width="3.50" height="10.40" fill="#fde725"/>
<rect x="382.0" y="331.00" width="0.55" height="10.40" fill="#4fc36a"/>
<rect x="384.95" y="331.00" width="0.55" height="10.40" fill="#4fc36a"/>
<rect x="394.7" y="331.00" width="3.70" height="10.40" fill="#fde725"/>
<rect x="394.7" y="331.00" width="0.55" height="10.40" fill="#4fc36a"/>
<rect x="397.85" y="331.00" width="0.55" height="10.40" fill="#4fc36a"/>
<rect x="398.4" y="331.00" width="2.10" height="10.40" fill="#95d740"/>
<rect x="400.5" y="331.00" width="1.50" height="10.40" fill="#21918c"/>
<rect x="411.6" y="331.00" width="5.30" height="10.40" fill="#fde725"/>
<rect x="411.6" y="331.00" width="0.55" height="10.40" fill="#4fc36a"/>
<rect x="416.35" y="331.00" width="0.55" height="10.40" fill="#4fc36a"/>
<rect x="424.4" y="331.00" width="3.10" height="10.40" fill="#b6de2a"/>
<rect x="433.0" y="331.00" width="1.40" height="10.40" fill="#26848d"/>
<rect x="434.4" y="331.00" width="2.70" height="10.40" fill="#b6de2a"/>
<rect x="444.4" y="331.00" width="1.40" height="10.40" fill="#26848d"/>
<rect x="445.8" y="331.00" width="4.10" height="10.40" fill="#fde725"/>
<rect x="445.8" y="331.00" width="0.55" height="10.40" fill="#4fc36a"/>
<rect x="449.35" y="331.00" width="0.55" height="10.40" fill="#4fc36a"/>
<rect x="456.7" y="331.00" width="4.60" height="10.40" fill="#fde725"/>
<rect x="456.7" y="331.00" width="0.55" height="10.40" fill="#4fc36a"/>
<rect x="460.75" y="331.00" width="0.55" height="10.40" fill="#4fc36a"/>
<rect x="469.0" y="331.00" width="4.80" height="10.40" fill="#fde725"/>
<rect x="469.0" y="331.00" width="0.55" height="10.40" fill="#4fc36a"/>
<rect x="473.25" y="331.00" width="0.55" height="10.40" fill="#4fc36a"/>
<rect x="479.9" y="331.00" width="5.00" height="10.40" fill="#cae126"/>
<rect x="491.0" y="331.00" width="3.10" height="10.40" fill="#fde725"/>
<rect x="491.0" y="331.00" width="0.55" height="10.40" fill="#4fc36a"/>
<rect x="493.55" y="331.00" width="0.55" height="10.40" fill="#4fc36a"/>
<rect x="502.3" y="331.00" width="4.50" height="10.40" fill="#fde725"/>
<rect x="502.3" y="331.00" width="0.55" height="10.40" fill="#4fc36a"/>
<rect x="506.25" y="331.00" width="0.55" height="10.40" fill="#4fc36a"/>
<rect x="514.4" y="331.00" width="1.50" height="10.40" fill="#26848d"/>
<rect x="515.9" y="331.00" width="10.00" height="10.40" fill="#fde725"/>
<rect x="515.9" y="331.00" width="0.55" height="10.40" fill="#4fc36a"/>
<rect x="525.35" y="331.00" width="0.55" height="10.40" fill="#4fc36a"/>
<rect x="527.3" y="331.00" width="3.20" height="10.40" fill="#355f8d"/>
<rect x="530.5" y="331.00" width="2.70" height="10.40" fill="#26848d"/>
<rect x="533.2" y="331.00" width="2.30" height="10.40" fill="#355f8d"/>
<rect x="535.5" y="331.00" width="1.80" height="10.40" fill="#2a788e"/>
<rect x="537.3" y="331.00" width="2.20" height="10.40" fill="#355f8d"/>
<rect x="357.5" y="341.40" width="1.70" height="10.40" fill="#443780"/>
<rect x="363.6" y="341.40" width="1.70" height="10.40" fill="#45317c"/>
<rect x="371.5" y="341.40" width="1.30" height="10.40" fill="#443780"/>
<rect x="385.4" y="341.40" width="1.80" height="10.40" fill="#443780"/>
<rect x="398.5" y="341.40" width="2.60" height="10.40" fill="#45317c"/>
<rect x="411.6" y="341.40" width="1.70" height="10.40" fill="#472a79"/>
<rect x="427.1" y="341.40" width="1.40" height="10.40" fill="#355f8d"/>
<rect x="439.5" y="341.40" width="1.80" height="10.40" fill="#472a79"/>
<rect x="443.9" y="341.40" width="1.70" height="10.40" fill="#472a79"/>
<rect x="460.5" y="341.40" width="2.00" height="10.40" fill="#414487"/>
<rect x="473.5" y="341.40" width="1.50" height="10.40" fill="#3b528a"/>
<rect x="526.4" y="341.40" width="2.70" height="10.40" fill="#3b528a"/>
<rect x="529.1" y="341.40" width="3.20" height="10.40" fill="#26848d"/>
<rect x="532.3" y="341.40" width="2.20" height="10.40" fill="#355f8d"/>
<rect x="534.5" y="341.40" width="2.80" height="10.40" fill="#26848d"/>
<rect x="537.3" y="341.40" width="2.20" height="10.40" fill="#355f8d"/>
<rect x="357.5" y="351.80" width="1.70" height="10.40" fill="#482475"/>
<rect x="371.5" y="351.80" width="1.30" height="10.40" fill="#482475"/>
<rect x="385.4" y="351.80" width="1.80" height="10.40" fill="#482475"/>
<rect x="398.5" y="351.80" width="2.60" height="10.40" fill="#471d6e"/>
<rect x="427" y="351.80" width="1.50" height="10.40" fill="#45317c"/>
<rect x="528.2" y="351.80" width="10.00" height="10.40" fill="#3f4988"/>
<rect x="538.2" y="351.80" width="1.30" height="10.40" fill="#306c8e"/>
<rect x="385.7" y="372.60" width="1.30" height="10.40" fill="#306c8e"/>
<rect x="426.8" y="372.60" width="1.40" height="10.40" fill="#306c8e"/>
<rect x="437.0" y="372.60" width="1.80" height="10.40" fill="#b6de2a"/>
<rect x="450" y="372.60" width="1.00" height="10.40" fill="#414487"/>
<rect x="461" y="372.60" width="1.00" height="10.40" fill="#414487"/>
<rect x="482.7" y="372.60" width="1.30" height="10.40" fill="#306c8e"/>
<rect x="494.8" y="372.60" width="1.30" height="10.40" fill="#26848d"/>
<rect x="529.2" y="372.60" width="2.60" height="10.40" fill="#3b528a"/>
<rect x="358.4" y="383.00" width="1.00" height="10.40" fill="#355f8d"/>
<rect x="361.0" y="383.00" width="1.10" height="10.40" fill="#355f8d"/>
<rect x="373.2" y="383.00" width="1.90" height="10.40" fill="#5fc860"/>
<rect x="377.0" y="383.00" width="0.80" height="10.40" fill="#3b528a"/>
<rect x="386.4" y="383.00" width="1.60" height="10.40" fill="#21918c"/>
<rect x="388.0" y="383.00" width="3.70" height="10.40" fill="#33b47a"/>
<rect x="402.4" y="383.00" width="2.20" height="10.40" fill="#21918c"/>
<rect x="416.5" y="383.00" width="1.60" height="10.40" fill="#3b528a"/>
<rect x="419.7" y="383.00" width="1.80" height="10.40" fill="#21918c"/>
<rect x="431" y="383.00" width="1.00" height="10.40" fill="#3b528a"/>
<rect x="433.5" y="383.00" width="1.00" height="10.40" fill="#3b528a"/>
<rect x="450.1" y="383.00" width="2.20" height="10.40" fill="#22a884"/>
<rect x="462.9" y="383.00" width="1.80" height="10.40" fill="#229c88"/>
<rect x="485.5" y="383.00" width="1.10" height="10.40" fill="#3b528a"/>
<rect x="496.4" y="383.00" width="1.90" height="10.40" fill="#44bf70"/>
<rect x="508.2" y="383.00" width="1.70" height="10.40" fill="#229c88"/>
<rect x="526.5" y="383.00" width="1.10" height="10.40" fill="#414487"/>
<rect x="358.6" y="403.80" width="2.90" height="10.40" fill="#f7e625"/>
<rect x="358.6" y="403.80" width="0.55" height="10.40" fill="#4fc36a"/>
<rect x="360.95" y="403.80" width="0.55" height="10.40" fill="#4fc36a"/>
<rect x="361.5" y="403.80" width="0.50" height="10.40" fill="#22a884"/>
<rect x="362.0" y="403.80" width="3.80" height="10.40" fill="#fde725"/>
<rect x="362.0" y="403.80" width="0.55" height="10.40" fill="#4fc36a"/>
<rect x="365.25" y="403.80" width="0.55" height="10.40" fill="#4fc36a"/>
<rect x="370.0" y="403.80" width="3.70" height="10.40" fill="#22a884"/>
<rect x="375.1" y="403.80" width="6.60" height="10.40" fill="#f7e625"/>
<rect x="375.1" y="403.80" width="0.55" height="10.40" fill="#4fc36a"/>
<rect x="381.15" y="403.80" width="0.55" height="10.40" fill="#4fc36a"/>
<rect x="384.8" y="403.80" width="4.30" height="10.40" fill="#2a788e"/>
<rect x="391.2" y="403.80" width="3.20" height="10.40" fill="#fde725"/>
<rect x="391.2" y="403.80" width="0.55" height="10.40" fill="#4fc36a"/>
<rect x="393.85" y="403.80" width="0.55" height="10.40" fill="#4fc36a"/>
<rect x="398.1" y="403.80" width="1.60" height="10.40" fill="#355f8d"/>
<rect x="400.7" y="403.80" width="0.50" height="10.40" fill="#306c8e"/>
<rect x="401.2" y="403.80" width="3.40" height="10.40" fill="#26848d"/>
<rect x="404.6" y="403.80" width="6.60" height="10.40" fill="#fde725"/>
<rect x="404.6" y="403.80" width="0.55" height="10.40" fill="#4fc36a"/>
<rect x="410.65" y="403.80" width="0.55" height="10.40" fill="#4fc36a"/>
<rect x="416.9" y="403.80" width="3.30" height="10.40" fill="#5fc860"/>
<rect x="420.2" y="403.80" width="1.60" height="10.40" fill="#21918c"/>
<rect x="421.8" y="403.80" width="2.70" height="10.40" fill="#fde725"/>
<rect x="421.8" y="403.80" width="0.55" height="10.40" fill="#4fc36a"/>
<rect x="423.95" y="403.80" width="0.55" height="10.40" fill="#4fc36a"/>
<rect x="428.2" y="403.80" width="3.30" height="10.40" fill="#d7e226"/>
<rect x="428.2" y="403.80" width="0.55" height="10.40" fill="#4fc36a"/>
<rect x="430.95" y="403.80" width="0.55" height="10.40" fill="#4fc36a"/>
<rect x="431.5" y="403.80" width="1.00" height="10.40" fill="#229c88"/>
<rect x="432.5" y="403.80" width="2.00" height="10.40" fill="#d7e226"/>
<rect x="432.5" y="403.80" width="0.55" height="10.40" fill="#4fc36a"/>
<rect x="433.95" y="403.80" width="0.55" height="10.40" fill="#4fc36a"/>
<rect x="438.3" y="403.80" width="5.70" height="10.40" fill="#e3e425"/>
<rect x="438.3" y="403.80" width="0.55" height="10.40" fill="#4fc36a"/>
<rect x="443.45" y="403.80" width="0.55" height="10.40" fill="#4fc36a"/>
<rect x="444.0" y="403.80" width="1.00" height="10.40" fill="#95d740"/>
<rect x="450.1" y="403.80" width="1.30" height="10.40" fill="#355f8d"/>
<rect x="451.9" y="403.80" width="4.80" height="10.40" fill="#fde725"/>
<rect x="451.9" y="403.80" width="0.55" height="10.40" fill="#4fc36a"/>
<rect x="456.15" y="403.80" width="0.55" height="10.40" fill="#4fc36a"/>
<rect x="461.5" y="403.80" width="2.10" height="10.40" fill="#229c88"/>
<rect x="464.1" y="403.80" width="4.80" height="10.40" fill="#fde725"/>
<rect x="464.1" y="403.80" width="0.55" height="10.40" fill="#4fc36a"/>
<rect x="468.35" y="403.80" width="0.55" height="10.40" fill="#4fc36a"/>
<rect x="474.2" y="403.80" width="5.80" height="10.40" fill="#fde725"/>
<rect x="474.2" y="403.80" width="0.55" height="10.40" fill="#4fc36a"/>
<rect x="479.45" y="403.80" width="0.55" height="10.40" fill="#4fc36a"/>
<rect x="485.3" y="403.80" width="1.60" height="10.40" fill="#5fc860"/>
<rect x="486.9" y="403.80" width="4.10" height="10.40" fill="#fde725"/>
<rect x="486.9" y="403.80" width="0.55" height="10.40" fill="#4fc36a"/>
<rect x="490.45" y="403.80" width="0.55" height="10.40" fill="#4fc36a"/>
<rect x="494.2" y="403.80" width="1.90" height="10.40" fill="#2a788e"/>
<rect x="498.3" y="403.80" width="3.90" height="10.40" fill="#fde725"/>
<rect x="498.3" y="403.80" width="0.55" height="10.40" fill="#4fc36a"/>
<rect x="501.65" y="403.80" width="0.55" height="10.40" fill="#4fc36a"/>
<rect x="507.0" y="403.80" width="1.50" height="10.40" fill="#5fc860"/>
<rect x="509.9" y="403.80" width="5.00" height="10.40" fill="#fde725"/>
<rect x="509.9" y="403.80" width="0.55" height="10.40" fill="#4fc36a"/>
<rect x="514.35" y="403.80" width="0.55" height="10.40" fill="#4fc36a"/>
<rect x="526.0" y="403.80" width="3.70" height="10.40" fill="#229c88"/>
<rect x="532.4" y="403.80" width="6.90" height="10.40" fill="#2a788e"/>
</g>
<rect x="121.5" y="21.9" width="186.0" height="121.4" fill="none" stroke="#8a8a8a" stroke-width="1.2"/>
<line x1="119.7" y1="34.175" x2="121.5" y2="34.175" stroke="#555" stroke-width="0.9"/>
<line x1="119.7" y1="54.35" x2="121.5" y2="54.35" stroke="#555" stroke-width="0.9"/>
<line x1="119.7" y1="74.525" x2="121.5" y2="74.525" stroke="#555" stroke-width="0.9"/>
<line x1="119.7" y1="94.7" x2="121.5" y2="94.7" stroke="#555" stroke-width="0.9"/>
<line x1="119.7" y1="114.875" x2="121.5" y2="114.875" stroke="#555" stroke-width="0.9"/>
<line x1="119.7" y1="135.05" x2="121.5" y2="135.05" stroke="#555" stroke-width="0.9"/>
<line x1="129.8" y1="143.8" x2="129.8" y2="148.5" stroke="#111" stroke-width="1.4"/>
<line x1="302.2" y1="143.8" x2="302.2" y2="148.5" stroke="#111" stroke-width="1.4"/>
<rect x="354.0" y="21.1" width="185.70000000000005" height="121.6" fill="none" stroke="#8a8a8a" stroke-width="1.2"/>
<line x1="352.2" y1="33.275" x2="354.0" y2="33.275" stroke="#555" stroke-width="0.9"/>
<line x1="352.2" y1="53.5" x2="354.0" y2="53.5" stroke="#555" stroke-width="0.9"/>
<line x1="352.2" y1="73.725" x2="354.0" y2="73.725" stroke="#555" stroke-width="0.9"/>
<line x1="352.2" y1="93.95" x2="354.0" y2="93.95" stroke="#555" stroke-width="0.9"/>
<line x1="352.2" y1="114.17500000000001" x2="354.0" y2="114.17500000000001" stroke="#555" stroke-width="0.9"/>
<line x1="352.2" y1="134.4" x2="354.0" y2="134.4" stroke="#555" stroke-width="0.9"/>
<line x1="361.4" y1="143.2" x2="361.4" y2="147.89999999999998" stroke="#111" stroke-width="1.4"/>
<line x1="532.1" y1="143.2" x2="532.1" y2="147.89999999999998" stroke="#111" stroke-width="1.4"/>
<polyline points="129.8,98.8 130.3,101.5 130.8,104.0 131.6,43.9 132.2,121.8 132.8,96.5 133.6,91.0 134.4,88.5 135.1,80.6 135.7,77.6 136.3,80.6 137.2,96.3 138.1,97.0 140.1,98.6 142.1,99.8 143.1,100.2 143.5,94.8 144.0,100.0 144.8,103.5 145.5,106.0 146.0,42.0 146.6,113.6 147.2,96.5 148.0,91.0 148.8,88.5 149.5,79.5 150.1,76.5 150.7,79.5 151.6,96.3 152.5,97.0 154.5,98.6 156.5,99.8 157.9,100.2 158.3,94.8 158.8,100.0 159.6,103.5 160.3,106.0 160.8,30.5 161.4,133.3 162.0,96.5 162.8,91.0 163.6,88.5 164.3,79.8 164.9,76.8 165.5,79.8 166.4,96.3 167.3,97.0 169.3,98.6 171.3,99.8 172.8,100.2 173.2,94.8 173.7,100.0 174.5,103.5 175.2,106.0 175.7,32.9 176.3,122.5 176.9,96.5 177.7,91.0 178.5,88.5 179.2,78.2 179.8,75.2 180.4,78.2 181.3,96.3 182.2,97.0 184.2,98.6 186.2,99.8 186.1,100.2 186.5,94.8 187.0,100.0 187.8,103.5 188.5,106.0 189.0,39.8 189.6,119.1 190.2,96.5 191.0,91.0 191.8,88.5 192.5,79.8 193.1,76.8 193.7,79.8 194.6,96.3 195.5,97.0 197.5,98.6 199.5,99.8 199.8,100.2 200.2,94.8 200.7,100.0 201.5,103.5 202.2,106.0 202.7,34.3 203.3,120.5 203.9,96.5 204.7,91.0 205.5,88.5 206.2,80.6 206.8,77.6 207.4,80.6 208.3,96.3 209.2,97.0 211.2,98.6 213.2,99.8 213.9,100.2 214.3,94.8 214.8,100.0 215.6,103.5 216.3,106.0 216.8,26.8 217.4,132.8 218.0,96.5 218.8,91.0 219.6,88.5 220.3,79.8 220.9,76.8 221.5,79.8 222.4,96.3 223.3,97.0 225.3,98.6 227.3,99.8 228.2,100.2 228.6,94.8 229.1,100.0 229.9,103.5 230.6,106.0 231.1,50.7 231.7,127.3 232.3,96.5 233.1,91.0 233.9,88.5 234.6,81.6 235.2,78.6 235.8,81.6 236.7,96.3 237.6,97.0 239.6,98.6 241.6,99.8 242.9,100.2 243.3,94.8 243.8,100.0 244.6,103.5 245.3,106.0 245.8,53.3 246.4,126.8 247.0,96.5 247.8,91.0 248.6,88.5 249.3,81.2 249.9,78.2 250.5,81.2 251.4,96.3 252.3,97.0 254.3,98.6 256.3,99.8 258.0,100.2 258.4,94.8 258.9,100.0 259.7,103.5 260.4,106.0 260.9,49.7 261.5,137.9 262.1,96.5 262.9,91.0 263.7,88.5 264.4,79.0 265.0,76.0 265.6,79.0 266.5,96.3 267.4,97.0 269.4,98.6 271.4,99.8 272.2,100.2 272.6,94.8 273.1,100.0 273.9,103.5 274.6,106.0 275.1,58.2 275.7,137.0 276.3,96.5 277.1,91.0 277.9,88.5 278.6,79.5 279.2,76.5 279.8,79.5 280.7,96.3 281.6,97.0 283.6,98.6 285.6,99.8 286.7,100.2 287.1,94.8 287.6,100.0 288.4,103.5 289.1,106.0 289.6,30.0 290.2,124.2 290.8,96.5 291.6,91.0 292.4,88.5 293.1,80.8 293.7,77.8 294.3,80.8 295.2,96.3 296.1,97.0 298.1,98.6 299.3,101.7" fill="none" stroke="#1f77b4" stroke-width="1.3" stroke-linejoin="round"/>
<polyline points="361.1,93.1 362.4,94.2 364.5,95.3 366.0,95.6 367.1,96.4 367.7,63.8 368.2,99.3 368.9,98.2 370.0,94.2 371.1,90.5 371.8,93.5 372.5,95.6 373.6,96.4 374.7,97.5 375.5,96.7 376.5,98.9 377.6,98.2 379.1,97.8 380.5,97.5 381.0,50.2 381.6,100.4 383.1,97.8 384.5,94.2 385.3,92.0 386.0,95.6 387.1,97.5 388.5,96.0 390.0,96.7 391.1,96.4 391.8,57.0 392.2,97.8 393.6,96.7 395.1,92.0 395.8,94.2 396.5,95.2 397.5,95.5 398.1,59.4 399.3,99.6 400.7,95.6 401.8,92.0 402.9,94.9 403.8,95.8 404.6,59.4 405.8,100.4 407.6,96.4 408.7,93.5 409.8,95.3 411.3,96.0 412.7,97.5 414.2,96.7 415.2,51.9 415.8,100.0 417.1,96.7 419.3,91.6 420.4,93.8 421.5,94.9 423.6,95.6 425.8,96.4 428.0,94.9 428.8,95.5 429.4,62.5 430.2,97.5 431.6,95.6 433.8,92.4 435.3,94.2 437.3,95.6 439.1,96.4 439.9,96.8 440.4,59.4 441.3,97.5 442.7,94.9 444.2,92.4 445.6,94.9 447.1,96.0 448.2,97.1 449.6,95.6 450.7,96.7 452.2,96.0 453.6,97.5 455.1,95.6 456.3,95.2 456.9,48.8 458.0,100.0 459.8,94.9 461.5,91.6 462.7,95.6 463.8,96.7 465.3,94.9 466.0,63.3 466.7,99.6 468.2,96.4 470.0,92.4 471.5,95.6 473.3,96.7 474.9,95.6 475.7,96.5 476.3,59.1 476.9,100.7 478.2,96.4 480.0,92.7 481.5,95.6 482.9,94.9 484.4,96.0 485.6,95.2 486.5,59.9 486.9,102.5 488.0,96.7 489.8,93.1 491.3,95.6 492.7,94.9 493.3,57.7 494.5,99.6 495.3,101.1 496.7,94.9 498.2,96.4 499.6,97.5 501.1,98.2 502.9,97.8 504.4,96.7 505.0,63.0 505.8,99.3 507.6,95.6 509.1,92.4 510.2,93.8 511.2,94.5 511.8,56.0 512.6,98.2 514.5,94.5 516.3,91.3 517.4,95.6 518.8,96.7 520.3,97.5 521.7,96.0 522.3,96.5 522.9,61.6 523.4,100.7 525.0,96.4 526.8,91.6 528.3,94.9 529.7,96.0 531.2,96.7" fill="none" stroke="#1f77b4" stroke-width="1.3" stroke-linejoin="round"/>
<rect x="121.60000000000001" y="182.70000000000002" width="185.5" height="115.50000000000001" fill="none" stroke="#1e0830" stroke-width="0.8" stroke-opacity="0.8"/>
<line x1="121.7" y1="298.6" x2="121.7" y2="303.1" stroke="#111" stroke-width="1.1"/>
<line x1="307.4" y1="298.6" x2="307.4" y2="303.1" stroke="#111" stroke-width="1.1"/>
<rect x="354.4" y="182.6" width="185.09999999999997" height="114.39999999999999" fill="none" stroke="#1e0830" stroke-width="0.8" stroke-opacity="0.8"/>
<line x1="354.5" y1="297.4" x2="354.5" y2="301.9" stroke="#111" stroke-width="1.1"/>
<line x1="539.8" y1="297.4" x2="539.8" y2="301.9" stroke="#111" stroke-width="1.1"/>
<rect x="121.60000000000001" y="331.0" width="185.5" height="114.09999999999998" fill="none" stroke="#1e0830" stroke-width="0.8" stroke-opacity="0.8"/>
<line x1="121.7" y1="445.5" x2="121.7" y2="450.0" stroke="#111" stroke-width="1.1"/>
<line x1="307.4" y1="445.5" x2="307.4" y2="450.0" stroke="#111" stroke-width="1.1"/>
<rect x="354.4" y="331.4" width="185.09999999999997" height="113.59999999999998" fill="none" stroke="#1e0830" stroke-width="0.8" stroke-opacity="0.8"/>
<line x1="354.5" y1="445.4" x2="354.5" y2="449.9" stroke="#111" stroke-width="1.1"/>
<line x1="539.8" y1="445.4" x2="539.8" y2="449.9" stroke="#111" stroke-width="1.1"/>
<text x="216.6" y="13.1" text-anchor="middle" class="ti">Normal Rhythm</text>
<text x="447.6" y="12.5" text-anchor="middle" class="ti">AFib Rhythm</text>
<text x="3.8" y="85.0" class="lab">1D ECG signal</text>
<text x="1.8" y="244.5" class="lab">Baseline n-BSM</text>
<text x="25.2" y="381.6" class="lab">PI-BSM</text>
<text x="116.3" y="37.18" text-anchor="end" class="tky">1.5</text>
<text x="116.3" y="57.52" text-anchor="end" class="tky">1.0</text>
<text x="116.3" y="77.86" text-anchor="end" class="tky">0.5</text>
<text x="116.3" y="98.20" text-anchor="end" class="tky">0.0</text>
<text x="116.3" y="118.54" text-anchor="end" class="tky">-0.5</text>
<text x="116.3" y="138.88" text-anchor="end" class="tky">-1.0</text>
<text x="129.8" y="160.85" text-anchor="middle" class="tkx">0</text>
<text x="302.2" y="160.85" text-anchor="middle" class="tkx">10</text>
<text x="217.45" y="160.5" text-anchor="middle" class="xl">Time(s)</text>
<text x="348.8" y="37.18" text-anchor="end" class="tky">1.5</text>
<text x="348.8" y="57.52" text-anchor="end" class="tky">1.0</text>
<text x="348.8" y="77.86" text-anchor="end" class="tky">0.5</text>
<text x="348.8" y="98.20" text-anchor="end" class="tky">0.0</text>
<text x="348.8" y="118.54" text-anchor="end" class="tky">-0.5</text>
<text x="348.8" y="138.88" text-anchor="end" class="tky">-1.0</text>
<text x="361.4" y="160.85" text-anchor="middle" class="tkx">0</text>
<text x="532.1" y="160.85" text-anchor="middle" class="tkx">10</text>
<text x="451.35" y="161.2" text-anchor="middle" class="xl">Time(s)</text>
<text transform="translate(115.7,190.50) scale(0.88,1.04)" text-anchor="end" class="rl">N</text>
<text transform="translate(115.7,201.30) scale(0.88,1.04)" text-anchor="end" class="rl">L</text>
<text transform="translate(115.7,212.10) scale(0.88,1.04)" text-anchor="end" class="rl">R</text>
<text transform="translate(115.7,222.90) scale(0.88,1.04)" text-anchor="end" class="rl">j</text>
<text transform="translate(115.7,233.70) scale(0.88,1.04)" text-anchor="end" class="rl">A</text>
<text transform="translate(115.7,244.50) scale(0.88,1.04)" text-anchor="end" class="rl">a</text>
<text transform="translate(115.7,255.30) scale(0.88,1.04)" text-anchor="end" class="rl">J</text>
<text transform="translate(115.7,266.10) scale(0.88,1.04)" text-anchor="end" class="rl">V</text>
<text transform="translate(115.7,276.90) scale(0.88,1.04)" text-anchor="end" class="rl">E</text>
<text transform="translate(115.7,287.70) scale(0.88,1.04)" text-anchor="end" class="rl">F</text>
<text transform="translate(115.7,298.50) scale(0.88,1.04)" text-anchor="end" class="rl">Q</text>
<text x="121.2" y="313.70000000000005" text-anchor="middle" class="tk">0</text>
<text x="308.1" y="313.70000000000005" text-anchor="middle" class="tk">10</text>
<text x="217.6" y="311.8" text-anchor="middle" class="xl">Time(s)</text>
<text transform="translate(349.7,189.60) scale(0.88,1.04)" text-anchor="end" class="rl">N</text>
<text transform="translate(349.7,200.38) scale(0.88,1.04)" text-anchor="end" class="rl">L</text>
<text transform="translate(349.7,211.16) scale(0.88,1.04)" text-anchor="end" class="rl">R</text>
<text transform="translate(349.7,221.94) scale(0.88,1.04)" text-anchor="end" class="rl">j</text>
<text transform="translate(349.7,232.72) scale(0.88,1.04)" text-anchor="end" class="rl">A</text>
<text transform="translate(349.7,243.50) scale(0.88,1.04)" text-anchor="end" class="rl">a</text>
<text transform="translate(349.7,254.28) scale(0.88,1.04)" text-anchor="end" class="rl">J</text>
<text transform="translate(349.7,265.06) scale(0.88,1.04)" text-anchor="end" class="rl">V</text>
<text transform="translate(349.7,275.84) scale(0.88,1.04)" text-anchor="end" class="rl">E</text>
<text transform="translate(349.7,286.62) scale(0.88,1.04)" text-anchor="end" class="rl">F</text>
<text transform="translate(349.7,297.40) scale(0.88,1.04)" text-anchor="end" class="rl">Q</text>
<text x="354.0" y="312.5" text-anchor="middle" class="tk">0</text>
<text x="540.5" y="312.5" text-anchor="middle" class="tk">10</text>
<text x="451.1" y="312.6" text-anchor="middle" class="xl">Time(s)</text>
<text transform="translate(115.7,338.50) scale(0.88,1.04)" text-anchor="end" class="rl">N</text>
<text transform="translate(115.7,349.22) scale(0.88,1.04)" text-anchor="end" class="rl">L</text>
<text transform="translate(115.7,359.94) scale(0.88,1.04)" text-anchor="end" class="rl">R</text>
<text transform="translate(115.7,370.66) scale(0.88,1.04)" text-anchor="end" class="rl">j</text>
<text transform="translate(115.7,381.38) scale(0.88,1.04)" text-anchor="end" class="rl">A</text>
<text transform="translate(115.7,392.10) scale(0.88,1.04)" text-anchor="end" class="rl">a</text>
<text transform="translate(115.7,402.82) scale(0.88,1.04)" text-anchor="end" class="rl">J</text>
<text transform="translate(115.7,413.54) scale(0.88,1.04)" text-anchor="end" class="rl">V</text>
<text transform="translate(115.7,424.26) scale(0.88,1.04)" text-anchor="end" class="rl">E</text>
<text transform="translate(115.7,434.98) scale(0.88,1.04)" text-anchor="end" class="rl">F</text>
<text transform="translate(115.7,445.70) scale(0.88,1.04)" text-anchor="end" class="rl">Q</text>
<text x="121.2" y="460.6" text-anchor="middle" class="tk">0</text>
<text x="308.1" y="460.6" text-anchor="middle" class="tk">10</text>
<text x="218.1" y="461.2" text-anchor="middle" class="xl">Time(s)</text>
<text transform="translate(349.7,338.00) scale(0.88,1.04)" text-anchor="end" class="rl">N</text>
<text transform="translate(349.7,348.72) scale(0.88,1.04)" text-anchor="end" class="rl">L</text>
<text transform="translate(349.7,359.44) scale(0.88,1.04)" text-anchor="end" class="rl">R</text>
<text transform="translate(349.7,370.16) scale(0.88,1.04)" text-anchor="end" class="rl">j</text>
<text transform="translate(349.7,380.88) scale(0.88,1.04)" text-anchor="end" class="rl">A</text>
<text transform="translate(349.7,391.60) scale(0.88,1.04)" text-anchor="end" class="rl">a</text>
<text transform="translate(349.7,402.32) scale(0.88,1.04)" text-anchor="end" class="rl">J</text>
<text transform="translate(349.7,413.04) scale(0.88,1.04)" text-anchor="end" class="rl">V</text>
<text transform="translate(349.7,423.76) scale(0.88,1.04)" text-anchor="end" class="rl">E</text>
<text transform="translate(349.7,434.48) scale(0.88,1.04)" text-anchor="end" class="rl">F</text>
<text transform="translate(349.7,445.20) scale(0.88,1.04)" text-anchor="end" class="rl">Q</text>
<text x="354.0" y="460.5" text-anchor="middle" class="tk">0</text>
<text x="540.5" y="460.5" text-anchor="middle" class="tk">10</text>
<text x="450.5" y="461.2" text-anchor="middle" class="xl">Time(s)</text>
<text x="147.9" y="484.8" class="cap" textLength="118" lengthAdjust="spacingAndGlyphs">(<tspan font-weight="bold">a</tspan>) Normal Rhythm</text>
<text x="397.2" y="484.8" class="cap" textLength="102.6" lengthAdjust="spacingAndGlyphs">(<tspan font-weight="bold">b</tspan>) AFib Rhythm</text>
</svg></body></html>
